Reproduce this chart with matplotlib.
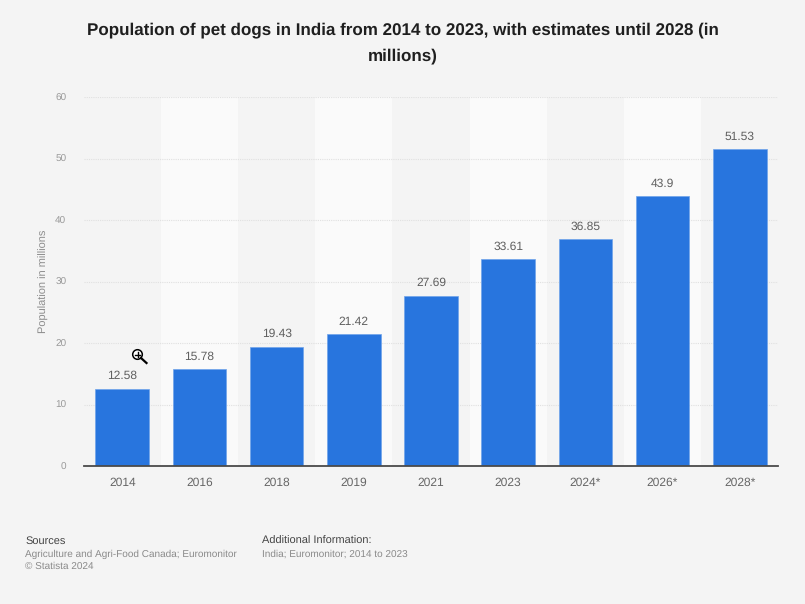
#!/usr/bin/env python3
"""Population of pet dogs in India, Statista style bar chart."""

import matplotlib
matplotlib.use("Agg")
import matplotlib.pyplot as plt
from matplotlib.lines import Line2D
from matplotlib.patches import Circle

# --- Data ---
years = ["2014", "2016", "2018", "2019", "2021", "2023", "2024*", "2026*", "2028*"]
population = [12.58, 15.78, 19.43, 21.42, 27.69, 33.61, 36.85, 43.9, 51.53]
value_labels = ["12.58", "15.78", "19.43", "21.42", "27.69", "33.61", "36.85", "43.9", "51.53"]
y_ticks = [0, 10, 20, 30, 40, 50, 60]

# --- Style ---
W, H = 805, 604
BG = "#f4f4f4"
BAND = "#fafafa"
BLUE = "#2875de"
EDGE = "#6fa3ea"
plt.rcParams["font.family"] = ["Liberation Sans", "DejaVu Sans"]
plt.rcParams["text.hinting"] = "none"
plt.rcParams["text.hinting_factor"] = 1

fig = plt.figure(figsize=(W / 100, H / 100), dpi=100, facecolor=BG)
ax = fig.add_axes([83.7 / W, 1 - 466 / H, (778.3 - 83.7) / W, (466 - 97) / H], facecolor=BG)

# alternating background columns
for i in range(1, len(years), 2):
    ax.axvspan(i - 0.5, i + 0.5, color=BAND, lw=0, zorder=0)

ax.set_axisbelow(True)
ax.grid(axis="y", color="#e0e0e0", lw=0.8, ls=(0, (1, 1)), zorder=1)

xs = range(len(years))
bars = ax.bar(xs, population, width=0.695, color=BLUE, edgecolor=EDGE, linewidth=0.5, zorder=2)
for x, v, lab in zip(xs, population, value_labels):
    ax.annotate(lab, (x, v), xytext=(0, 5), textcoords="offset points", ha="center",
                va="bottom", fontsize=8.7, color="#5f5f5f", zorder=3)

ax.set_xlim(-0.5, len(years) - 0.5)
ax.set_ylim(0, 60)
ax.set_xticks(list(xs), years)
ax.set_yticks(y_ticks)
ax.tick_params(axis="x", length=0, pad=8.4, labelsize=8.7, labelcolor="#666666")
ax.tick_params(axis="y", length=0, pad=12.5, labelsize=7.2, labelcolor="#999999")
for name in ("top", "left", "right"):
    ax.spines[name].set_visible(False)
ax.spines["bottom"].set_color("#4a4a4a")
ax.spines["bottom"].set_linewidth(1.3)
ax.spines["bottom"].set_zorder(4)

ax.set_ylabel("Population in millions", fontsize=7.6, color="#8c8c8c", labelpad=4.3)

# --- Title ---
fig.text(403 / W, 1 - 30 / H, "Population of pet dogs in India from 2014 to 2023, with estimates until 2028 (in",
         ha="center", va="center", fontsize=12.15, fontweight="bold", color="#1f1f1f")
fig.text(403 / W, 1 - 56 / H, "millions)",
         ha="center", va="center", fontsize=12.15, fontweight="bold", color="#1f1f1f")

# --- Footer ---
fig.text(25 / W, 1 - 541 / H, "Sources", fontsize=7.8, color="#444444", va="center")
fig.text(25 / W, 1 - 554 / H, "Agriculture and Agri-Food Canada; Euromonitor", fontsize=7.2,
         color="#8a8a8a", va="center")
fig.text(25 / W, 1 - 566 / H, "\u00a9 Statista 2024", fontsize=7.2, color="#8a8a8a", va="center")
fig.text(261.5 / W, 1 - 541 / H, "Additional Information:", fontsize=7.9, color="#444444", va="center")
fig.text(261.5 / W, 1 - 554 / H, "India; Euromonitor; 2014 to 2023", fontsize=7.2,
         color="#8a8a8a", va="center")

# --- Cursor icon captured in the screenshot ---
icon = fig.add_axes([0, 0, 1, 1], facecolor="none")
icon.set_xlim(0, W)
icon.set_ylim(H, 0)
icon.axis("off")
icon.add_patch(Circle((137.5, 354.5), 4.8, fc="white", ec="black", lw=1.1))
icon.add_line(Line2D([135, 140], [354.5, 354.5], color="black", lw=1))
icon.add_line(Line2D([137.5, 137.5], [352, 357], color="black", lw=1))
icon.add_line(Line2D([141, 146.5], [358, 363], color="black", lw=1.6))

fig.savefig("out.png", dpi=100, facecolor=BG)
